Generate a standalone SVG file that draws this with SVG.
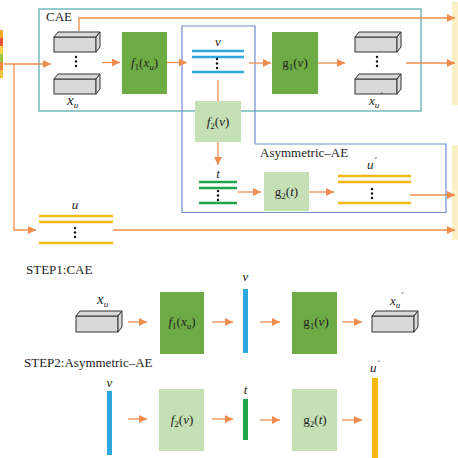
<svg xmlns="http://www.w3.org/2000/svg" width="458" height="458" viewBox="0 0 458 458">
<style>
text{font-family:"Liberation Serif","DejaVu Serif",serif;fill:#222;font-size:13px}
.i{font-style:italic}
.sub{font-size:9px}
.lbl{font-size:13px}
.xl{font-size:15px}
.con line,.con polyline{stroke:#ef8c4e;stroke-width:1.3;fill:none}
.arr{marker-end:url(#ah)}
.cube rect,.cube polygon{fill:#d9d9d9;stroke:#333;stroke-width:1}
.dg{fill:#6dab45}
.lg{fill:#c6e0b5}
.bl{stroke:#2ea7df;stroke-width:2.5}
.gr{stroke:#1fa64a;stroke-width:2.5}
.yl{stroke:#f5b716;stroke-width:2.5}
.dot{fill:#111}
</style>
<defs>
<marker id="ah" markerWidth="8" markerHeight="8" refX="8" refY="4" orient="auto" markerUnits="userSpaceOnUse">
<path d="M0,0 L8,4 L0,8 z" fill="#ef8c4e"/>
</marker>
<g id="dots3"><circle cx="0" cy="0" r="1.2"/><circle cx="0" cy="4.5" r="1.2"/><circle cx="0" cy="9" r="1.2"/></g>
</defs>
<rect width="458" height="458" fill="#fff"/>

<!-- side strips -->
<g id="input-strip">
<rect x="0" y="30" width="3" height="8" fill="#f5a623"/>
<rect x="0" y="38" width="3" height="8" fill="#e8553a"/>
<rect x="0" y="46" width="3" height="8" fill="#f7d34a"/>
<rect x="0" y="54" width="3" height="8" fill="#9cc84a"/>
<rect x="0" y="62" width="3" height="8" fill="#f08a3c"/>
<rect x="0" y="70" width="3" height="8" fill="#f5c242"/>
</g>
<g id="output-strips">
<rect x="452" y="2" width="6" height="103" fill="#fbefc6"/>
<rect x="452" y="145" width="6" height="95" fill="#fbefc6"/>
</g>

<!-- frames -->
<g id="cae-frame">
<rect x="39" y="9" width="382" height="102" fill="none" stroke="#52a7ab" stroke-width="1.2"/>
<text x="46" y="21">CAE</text>
</g>
<g id="asym-frame">
<polygon points="182,26 255,26 255,144 446,144 446,212.5 182,212.5" fill="none" stroke="#6d8fca" stroke-width="1.2"/>
<text x="260" y="157" font-size="12">Asymmetric–AE</text>
</g>

<!-- connectors -->
<g class="con" id="connectors">
<polyline class="arr" points="4,64 51,64"/>
<polyline class="arr" points="14,64 14,230 36,230"/>
<polyline class="arr" points="79,31 79,18 455,18"/>
<line class="arr" x1="102" y1="62.5" x2="120" y2="62.5"/>
<line class="arr" x1="167" y1="62.5" x2="187" y2="62.5"/>
<line class="arr" x1="249" y1="63" x2="271" y2="63"/>
<line class="arr" x1="318" y1="63" x2="345" y2="63"/>
<line class="arr" x1="406" y1="63" x2="455" y2="63"/>
<line x1="218" y1="80" x2="218" y2="101"/>
<line class="arr" x1="218" y1="142" x2="218" y2="165"/>
<line class="arr" x1="238" y1="192" x2="261" y2="192"/>
<line class="arr" x1="309" y1="192" x2="334" y2="192"/>
<line class="arr" x1="410" y1="195" x2="455" y2="195"/>
<line class="arr" x1="113" y1="230" x2="455" y2="230"/>
<line class="arr" x1="128" y1="322" x2="147" y2="322"/>
<line class="arr" x1="212" y1="322" x2="233" y2="322"/>
<line class="arr" x1="260" y1="322" x2="280" y2="322"/>
<line class="arr" x1="342" y1="322" x2="362" y2="322"/>
<line class="arr" x1="128" y1="419" x2="147" y2="419"/>
<line class="arr" x1="212" y1="419" x2="233" y2="419"/>
<line class="arr" x1="260" y1="420" x2="280" y2="420"/>
<line class="arr" x1="342" y1="420" x2="362" y2="420"/>
</g>

<!-- top diagram nodes -->
<g id="xu-input">
<g class="cube"><rect x="54" y="37" width="42" height="15"/><polygon points="54,37 58,32 100,32 96,37"/><polygon points="96,37 100,32 100,47 96,52"/></g>
<g class="cube"><rect x="54" y="79" width="42" height="15"/><polygon points="54,79 58,74 100,74 96,79"/><polygon points="96,79 100,74 100,89 96,94"/></g>
<use href="#dots3" x="76" y="57" class="dot"/>
<text x="67" y="105" class="i xl">x<tspan class="sub" font-size="11" dy="3">u</tspan></text>
</g>
<g id="f1">
<rect x="122" y="32" width="45" height="62" class="dg"/>
<text x="144.5" y="67" text-anchor="middle" class="lbl"><tspan class="i">f</tspan><tspan class="sub" dy="3">1</tspan><tspan dy="-3">(</tspan><tspan class="i">x</tspan><tspan class="sub i" dy="3">u</tspan><tspan dy="-3">)</tspan></text>
</g>
<g id="v-code">
<line x1="192" y1="51" x2="244" y2="51" class="bl"/>
<line x1="192" y1="57" x2="244" y2="57" class="bl"/>
<line x1="192" y1="72" x2="244" y2="72" class="bl"/>
<use href="#dots3" x="217" y="59" class="dot"/>
<text x="218" y="46" text-anchor="middle" class="i lbl">v</text>
</g>
<g id="g1">
<rect x="272" y="32" width="46" height="62" class="dg"/>
<text x="295" y="67" text-anchor="middle" class="lbl">g<tspan class="sub" dy="3">1</tspan><tspan dy="-3">(</tspan><tspan class="i">v</tspan>)</text>
</g>
<g id="xu-output">
<g class="cube"><rect x="355" y="37" width="42" height="15"/><polygon points="355,37 359,32 401,32 397,37"/><polygon points="397,37 401,32 401,47 397,52"/></g>
<g class="cube"><rect x="355" y="79" width="42" height="15"/><polygon points="355,79 359,74 401,74 397,79"/><polygon points="397,79 401,74 401,89 397,94"/></g>
<use href="#dots3" x="377" y="57" class="dot"/>
<text x="369" y="105" class="i lbl">x<tspan class="sub" dy="3">u</tspan><tspan dy="-8" font-size="10">´</tspan></text>
</g>
<g id="f2">
<rect x="195" y="101" width="46" height="41" class="lg"/>
<text x="218" y="126" text-anchor="middle" class="lbl"><tspan class="i">f</tspan><tspan class="sub" dy="3">2</tspan><tspan dy="-3">(</tspan><tspan class="i">v</tspan>)</text>
</g>
<g id="t-code">
<line x1="199" y1="182" x2="237" y2="182" class="gr"/>
<line x1="199" y1="188" x2="237" y2="188" class="gr"/>
<line x1="199" y1="203" x2="237" y2="203" class="gr"/>
<use href="#dots3" x="218" y="191" class="dot"/>
<text x="218" y="178" text-anchor="middle" class="i lbl">t</text>
</g>
<g id="g2">
<rect x="264" y="172" width="45" height="39" class="lg"/>
<text x="286.5" y="196" text-anchor="middle" class="lbl">g<tspan class="sub" dy="3">2</tspan><tspan dy="-3">(</tspan><tspan class="i">t</tspan>)</text>
</g>
<g id="u-output">
<line x1="338" y1="176" x2="411" y2="176" class="yl"/>
<line x1="338" y1="182" x2="411" y2="182" class="yl"/>
<line x1="338" y1="203" x2="411" y2="203" class="yl"/>
<use href="#dots3" x="372" y="189" class="dot"/>
<text x="372" y="169" text-anchor="middle" class="i lbl">u<tspan dy="-4" font-size="10">´</tspan></text>
</g>
<g id="u-input">
<line x1="39" y1="216" x2="113" y2="216" class="yl"/>
<line x1="39" y1="222" x2="113" y2="222" class="yl"/>
<line x1="39" y1="243" x2="113" y2="243" class="yl"/>
<use href="#dots3" x="75" y="228" class="dot"/>
<text x="75" y="209" text-anchor="middle" class="i lbl">u</text>
</g>

<!-- step 1 -->
<text x="26" y="274" font-size="11">STEP1:CAE</text>
<g id="s1-xu">
<g class="cube"><rect x="76" y="316" width="42" height="16"/><polygon points="76,316 80,311 122,311 118,316"/><polygon points="118,316 122,311 122,327 118,332"/></g>
<text x="97" y="304" class="i xl">x<tspan class="sub" font-size="11" dy="3">u</tspan></text>
</g>
<g id="s1-f1">
<rect x="160" y="292" width="44" height="62" class="dg"/>
<text x="182" y="326" text-anchor="middle" class="lbl"><tspan class="i">f</tspan><tspan class="sub" dy="3">1</tspan><tspan dy="-3">(</tspan><tspan class="i">x</tspan><tspan class="sub i" dy="3">u</tspan><tspan dy="-3">)</tspan></text>
</g>
<g id="s1-v">
<rect x="243" y="289" width="5" height="64" fill="#2ea7df"/>
<text x="245.5" y="281" text-anchor="middle" class="i lbl">v</text>
</g>
<g id="s1-g1">
<rect x="292" y="292" width="45" height="62" class="dg"/>
<text x="316" y="326" text-anchor="middle" class="lbl">g<tspan class="sub" dy="3">1</tspan><tspan dy="-3">(</tspan><tspan class="i">v</tspan>)</text>
</g>
<g id="s1-xu-out">
<g class="cube"><rect x="372" y="316" width="42" height="16"/><polygon points="372,316 376,311 418,311 414,316"/><polygon points="414,316 418,311 418,327 414,332"/></g>
<text x="390" y="305" class="i lbl">x<tspan class="sub" dy="3">u</tspan><tspan dy="-8" font-size="10">´</tspan></text>
</g>

<!-- step 2 -->
<text x="24" y="367" font-size="11">STEP2:Asymmetric–AE</text>
<g id="s2-v">
<rect x="107" y="391" width="5" height="64" fill="#2ea7df"/>
<text x="109.5" y="387" text-anchor="middle" class="i lbl">v</text>
</g>
<g id="s2-f2">
<rect x="159" y="389" width="45" height="62" class="lg"/>
<text x="182" y="424" text-anchor="middle" class="lbl"><tspan class="i">f</tspan><tspan class="sub" dy="3">2</tspan><tspan dy="-3">(</tspan><tspan class="i">v</tspan>)</text>
</g>
<g id="s2-t">
<rect x="243" y="399" width="5" height="41" fill="#1fa64a"/>
<text x="245.5" y="394" text-anchor="middle" class="i lbl">t</text>
</g>
<g id="s2-g2">
<rect x="292" y="389" width="45" height="62" class="lg"/>
<text x="315" y="424" text-anchor="middle" class="lbl">g<tspan class="sub" dy="3">2</tspan><tspan dy="-3">(</tspan><tspan class="i">t</tspan>)</text>
</g>
<g id="s2-u">
<rect x="372" y="378" width="6" height="80" fill="#f5b716"/>
<text x="375" y="372" text-anchor="middle" class="i lbl">u<tspan dy="-4" font-size="10">´</tspan></text>
</g>
</svg>
